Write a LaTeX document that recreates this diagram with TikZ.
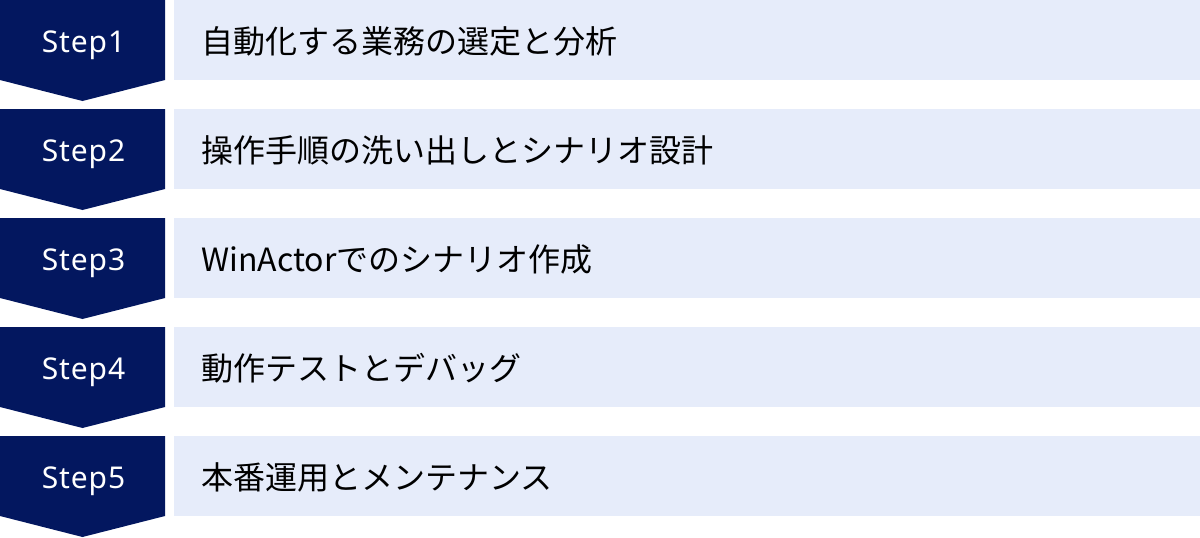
\documentclass[tikz,border=0pt]{standalone}
\usepackage{fontspec}
\setmainfont{Noto Sans CJK JP}
\newfontfamily\stepfont[LetterSpace=3]{Noto Sans}
\usepackage{tikz}
\definecolor{stepnavy}{HTML}{03175F}
\definecolor{taskblue}{HTML}{E6ECFA}
\tikzset{
  stepnum/.style={anchor=base,text=white,font=\stepfont\fontsize{30}{36}\selectfont,inner sep=0pt},
  tasktext/.style={anchor=base west,text=black,font=\fontsize{32}{38}\selectfont,inner sep=0pt},
}

\begin{document}
\begin{tikzpicture}[x=1pt,y=-1pt]
    \useasboundingbox (0,0) rectangle (1200,538);
    \foreach \y in {0,109,218,327,436} {
      \fill[stepnavy] (0,\y) -- (165,\y) -- (165,\y+80) -- (82.5,\y+101) -- (0,\y+80) -- cycle;
      \fill[taskblue] (174,\y) rectangle (1200,\y+80);
    }
    \node[stepnum] (s1) at (83.5,52.5) {Step1};
    \node[stepnum] (s2) at (83.5,161.5) {Step2};
    \node[stepnum] (s3) at (83.5,270.5) {Step3};
    \node[stepnum] (s4) at (83.5,379.5) {Step4};
    \node[stepnum] (s5) at (83.5,488.5) {Step5};
    \node[tasktext] (t1) at (201,53) {自動化する業務の選定と分析};
    \node[tasktext] (t2) at (201,162) {操作手順の洗い出しとシナリオ設計};
    \node[tasktext] (t3) at (201,271) {WinActorでのシナリオ作成};
    \node[tasktext] (t4) at (201,380) {動作テストとデバッグ};
    \node[tasktext] (t5) at (201,489) {本番運用とメンテナンス};
  \end{tikzpicture}
\end{document}
